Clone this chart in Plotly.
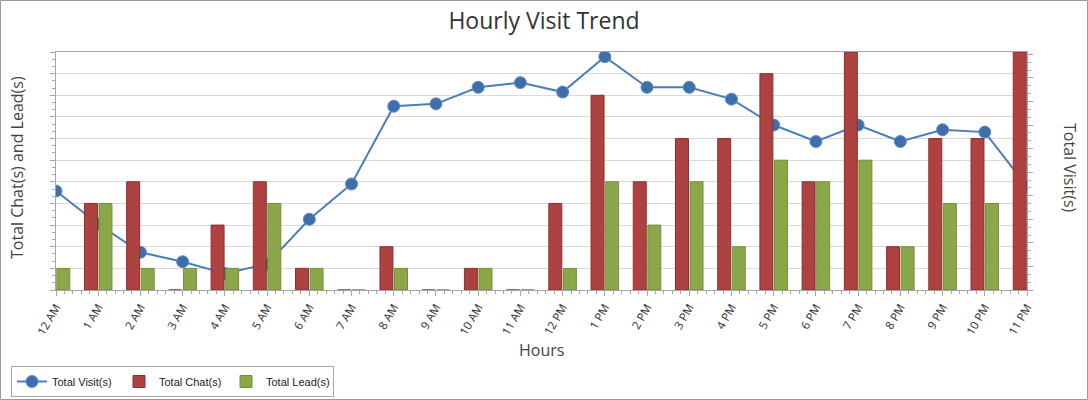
import plotly.graph_objects as go

hours = ["12 AM", "1 AM", "2 AM", "3 AM", "4 AM", "5 AM", "6 AM", "7 AM", "8 AM", "9 AM",
         "10 AM", "11 AM", "12 PM", "1 PM", "2 PM", "3 PM", "4 PM", "5 PM", "6 PM", "7 PM",
         "8 PM", "9 PM", "10 PM", "11 PM"]
visits = [42, 28, 16, 12, 7, 11, 30, 45, 78, 79, 86, 88, 84, 99, 86, 86, 81, 70, 63, 70, 63, 68, 67, 44]
chats = [0, 4, 5, 0, 3, 5, 1, 0, 2, 0, 1, 0, 4, 9, 5, 7, 7, 10, 5, 11, 2, 7, 7, 11]
leads = [1, 4, 1, 1, 1, 4, 1, 0, 1, 0, 1, 0, 1, 5, 3, 5, 2, 6, 5, 6, 2, 4, 4, 0]

xpos = list(range(len(hours)))

W, H = 1088, 400
ML, MR, MT, MB = 56, 61, 52, 110
PW, PH = W - ML - MR, H - MT - MB

def px_x(x):
    return (x - ML) / PW

def px_y(y):
    return (H - MB - y) / PH

font_main = "Open Sans, Noto Sans, sans-serif"
grey = "#a6a6a6"

fig = go.Figure()
fig.add_trace(go.Scatter(
    x=xpos, y=visits, name="Total Visit(s)", mode="lines+markers",
    line=dict(color="#4a7ebb", width=2),
    marker=dict(size=12, color="#3f6fab", line=dict(color="#5b8bc7", width=1)),
    yaxis="y",
))
fig.add_trace(go.Bar(
    x=xpos, y=chats, name="Total Chat(s)",
    marker=dict(color="#ad4240", line=dict(color="#8c2f2e", width=1)),
    yaxis="y2",
))
fig.add_trace(go.Bar(
    x=xpos, y=leads, name="Total Lead(s)",
    marker=dict(color="#8aa84a", line=dict(color="#71903a", width=1)),
    yaxis="y2",
))

fig.update_layout(
    width=W, height=H,
    margin=dict(l=ML, r=MR, t=MT, b=MB, autoexpand=False),
    paper_bgcolor="white", plot_bgcolor="white",
    barmode="group", bargap=0.31, bargroupgap=0.11,
    font=dict(family=font_main, color="#444444"),
    title=dict(text="Hourly Visit Trend", x=0.5, xref="container", xanchor="center",
               y=1 - 21 / H, yref="container", yanchor="middle",
               font=dict(size=23, color="#333333", family=font_main)),
    xaxis=dict(
        range=[0, 23], tickmode="array", tickvals=xpos, ticktext=hours,
        tickangle=-60, tickfont=dict(size=11.5, color="#3a3a3a", family="Noto Sans, sans-serif"),
        showgrid=False, zeroline=False,
        showline=True, linecolor=grey, linewidth=1, mirror=True,
        ticks="outside", ticklen=5, tickcolor=grey,
        minor=dict(dtick=0.2, ticks="outside", ticklen=3, tickcolor=grey, showgrid=False),
        automargin=False,
    ),
    yaxis=dict(
        range=[0, 101], side="right", dtick=10, showticklabels=False,
        showgrid=False, zeroline=False,
        showline=True, linecolor=grey, linewidth=1,
        ticks="outside", ticklen=5, tickcolor=grey,
        minor=dict(dtick=10 / 3, ticks="outside", ticklen=3, tickcolor=grey, showgrid=False),
        automargin=False,
    ),
    yaxis2=dict(
        range=[0, 11], side="left", overlaying="y", dtick=1, showticklabels=False,
        showgrid=True, gridcolor="#dadada", gridwidth=1, zeroline=False,
        showline=True, linecolor=grey, linewidth=1,
        ticks="outside", ticklen=5, tickcolor=grey,
        minor=dict(dtick=1 / 3, ticks="outside", ticklen=3, tickcolor=grey, showgrid=False),
        automargin=False,
    ),
    showlegend=True,
    legend=dict(
        orientation="h", x=px_x(11), y=px_y(366), xanchor="left", yanchor="top",
        bordercolor=grey, borderwidth=1, bgcolor="white",
        font=dict(size=11, color="#222222", family="Liberation Sans, Arial, sans-serif"),
        itemwidth=30, traceorder="normal",
        entrywidth=62, entrywidthmode="pixels",
        tracegroupgap=0,
    ),
    annotations=[
        dict(text="Total Chat(s) and Lead(s)", xref="paper", yref="paper",
             x=px_x(17), y=px_y(168), textangle=-90, showarrow=False,
             xanchor="center", yanchor="middle",
             font=dict(size=16, color="#444444", family=font_main)),
        dict(text="Total Visit(s)", xref="paper", yref="paper",
             x=px_x(1070), y=px_y(168), textangle=90, showarrow=False,
             xanchor="center", yanchor="middle",
             font=dict(size=16, color="#444444", family=font_main)),
        dict(text="Hours", xref="paper", yref="paper",
             x=px_x(541), y=px_y(350), showarrow=False,
             xanchor="center", yanchor="middle",
             font=dict(size=16, color="#444444", family=font_main)),
    ],
    shapes=[
        dict(type="rect", xref="paper", yref="paper",
             x0=px_x(0.5), x1=px_x(W - 0.5), y0=px_y(H - 0.5), y1=px_y(0.5),
             line=dict(color="#999999", width=1), fillcolor="rgba(0,0,0,0)", layer="below"),
    ],
)

fig.write_html("out.html")
